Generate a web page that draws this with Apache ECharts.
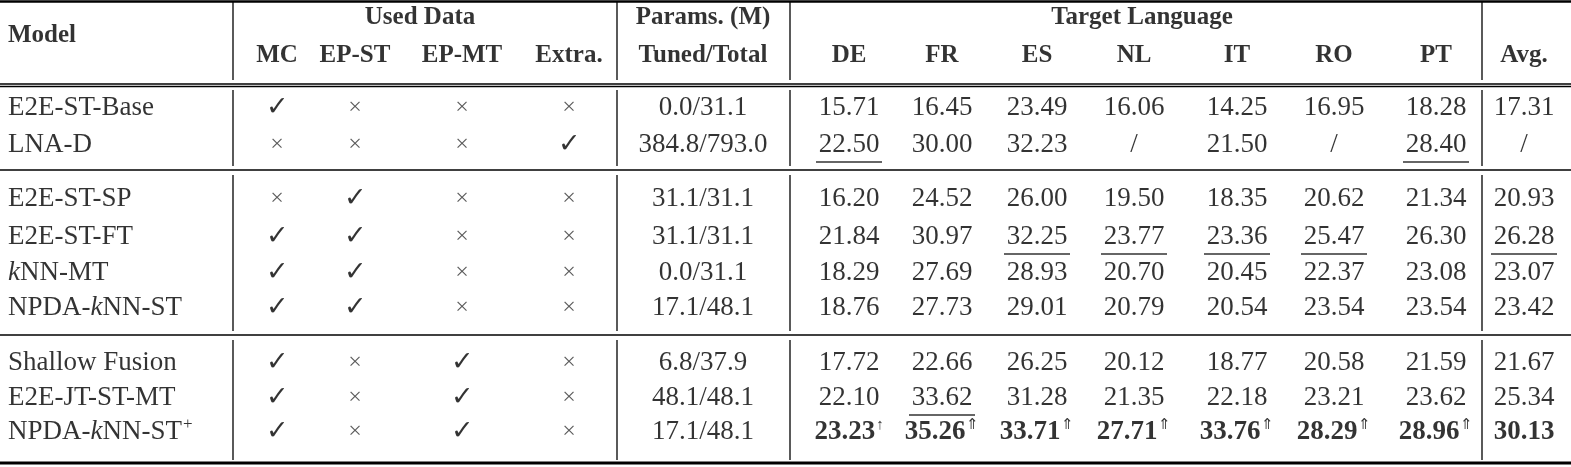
<!DOCTYPE html>
<html><head><meta charset="utf-8">
<script src="https://cdn.jsdelivr.net/npm/echarts@6/dist/echarts.min.js"></script>
<style>html,body{margin:0;background:#fff}#c{width:1571px;height:467px}</style>
</head><body><div id="c"></div>
<script>
// table content
let models = ['E2E-ST-Base', 'LNA-D', 'E2E-ST-SP', 'E2E-ST-FT', '{i|k}NN-MT', 'NPDA-{i|k}NN-ST',
  'Shallow Fusion', 'E2E-JT-ST-MT', 'NPDA-{i|k}NN-ST{p|+}']
let mc = [1, 0, 0, 1, 1, 1, 1, 1, 1]
let epst = [0, 0, 1, 1, 1, 1, 0, 0, 0]
let epmt = [0, 0, 0, 0, 0, 0, 1, 1, 1]
let extra = [0, 1, 0, 0, 0, 0, 0, 0, 0]
let params = ['0.0/31.1', '384.8/793.0', '31.1/31.1', '31.1/31.1', '0.0/31.1', '17.1/48.1', '6.8/37.9', '48.1/48.1', '17.1/48.1']
let langs = ['DE', 'FR', 'ES', 'NL', 'IT', 'RO', 'PT']
let scores = [
  ['15.71', '16.45', '23.49', '16.06', '14.25', '16.95', '18.28'],
  ['22.50', '30.00', '32.23', '/', '21.50', '/', '28.40'],
  ['16.20', '24.52', '26.00', '19.50', '18.35', '20.62', '21.34'],
  ['21.84', '30.97', '32.25', '23.77', '23.36', '25.47', '26.30'],
  ['18.29', '27.69', '28.93', '20.70', '20.45', '22.37', '23.08'],
  ['18.76', '27.73', '29.01', '20.79', '20.54', '23.54', '23.54'],
  ['17.72', '22.66', '26.25', '20.12', '18.77', '20.58', '21.59'],
  ['22.10', '33.62', '31.28', '21.35', '22.18', '23.21', '23.62'],
  ['23.23', '35.26', '33.71', '27.71', '33.76', '28.29', '28.96']
]
let avg = ['17.31', '/', '20.93', '26.28', '23.07', '23.42', '21.67', '25.34', '30.13']
// underlined cells [row, col] (col 7 = Avg)
let underlined = [[1, 0], [1, 6], [3, 2], [3, 3], [3, 4], [3, 5], [3, 7], [7, 1]]
let boldRow = 8
let marks = ['↑', '⇑', '⇑', '⇑', '⇑', '⇑', '⇑']

// layout
let rowY = [108, 145, 199, 237, 273, 308, 363, 398, 432]
let langX = [849, 942, 1037, 1134, 1237, 1334, 1436]
let avgX = 1524
let usedX = [277, 355, 462, 569]
let paramX = 703
let font = 'Liberation Serif'
let fs = 27

let chart = echarts.init(document.getElementById('c'))

let cells = []
let cell = (x, y, text, align) => cells.push({ value: [x, y], text: text, align: align || 'center' })
let hdr = (x, y, text, align) => cell(x, y, '{h|' + text + '}', align)

hdr(8, 36, 'Model', 'left')
hdr(420, 18, 'Used Data')
;['MC', 'EP-ST', 'EP-MT', 'Extra.'].forEach((t, i) => hdr(usedX[i], 56, t))
hdr(paramX, 18, 'Params. (M)')
hdr(paramX, 56, 'Tuned/Total')
hdr(1142, 18, 'Target Language')
langs.forEach((t, i) => hdr(langX[i], 56, t))
hdr(avgX, 56, 'Avg.')

let sym = v => v ? '✓' : '{x|×}'
models.forEach((m, r) => {
  let y = rowY[r]
  cell(8, y, m, 'left')
  ;[mc, epst, epmt, extra].forEach((arr, k) => cell(usedX[k], y, sym(arr[r])))
  cell(paramX, y, params[r])
  scores[r].forEach((v, k) => {
    cell(langX[k], y, r === boldRow ? '{b|' + v + '}{s|' + marks[k] + '}' : v)
  })
  cell(avgX, y, r === boldRow ? '{b|' + avg[r] + '}' : avg[r])
})

let ulines = underlined.map(([r, c]) => [c === 7 ? avgX : langX[c], rowY[r] + 17])

let rich = {
  h: { fontFamily: font, fontSize: 25, fontWeight: 'bold', color: '#000' },
  b: { fontFamily: font, fontSize: fs, fontWeight: 'bold', color: '#000' },
  i: { fontFamily: font, fontSize: fs, fontStyle: 'italic', color: '#000' },
  p: { fontFamily: font, fontSize: 17, color: '#000', padding: [0, 0, 14, 1] },
  s: { fontFamily: font, fontSize: 15, color: '#000', padding: [0, 0, 14, 1] },
  x: { fontFamily: font, fontSize: 24, color: '#333' }
}

let hline = (y, w) => ({ type: 'line', shape: { x1: 0, y1: y, x2: 1571, y2: y }, style: { stroke: '#000', lineWidth: w } })
let vseg = (x, a, b) => ({ type: 'line', shape: { x1: x, y1: a, x2: x, y2: b }, style: { stroke: '#000', lineWidth: 1.3 } })
let vlines = []
;[233, 617, 790, 1482].forEach(x => {
  vlines.push(vseg(x, 2, 80), vseg(x, 90, 166), vseg(x, 175, 331), vseg(x, 340, 460))
})

let option = {
  animation: false,
  grid: { left: 0, right: 0, top: 0, bottom: 0 },
  xAxis: { type: 'value', min: 0, max: 1571, show: false },
  yAxis: { type: 'value', min: 0, max: 467, inverse: true, show: false },
  graphic: [hline(1.5, 2.5), hline(84, 1.3), hline(86.5, 1.3), hline(170, 1.3), hline(335, 1.3), hline(463, 3)].concat(vlines),
  series: [
    {
      type: 'scatter',
      symbolSize: 0,
      data: cells.map(c => ({
        value: c.value,
        label: { align: c.align, formatter: c.text }
      })),
      label: {
        show: true,
        position: 'inside',
        fontFamily: font,
        fontSize: fs,
        color: '#000',
        rich: rich
      }
    },
    {
      type: 'scatter',
      symbol: 'rect',
      symbolSize: [66, 1.5],
      itemStyle: { color: '#000' },
      data: ulines
    }
  ]
}

chart.setOption(option)
</script>
</body></html>
